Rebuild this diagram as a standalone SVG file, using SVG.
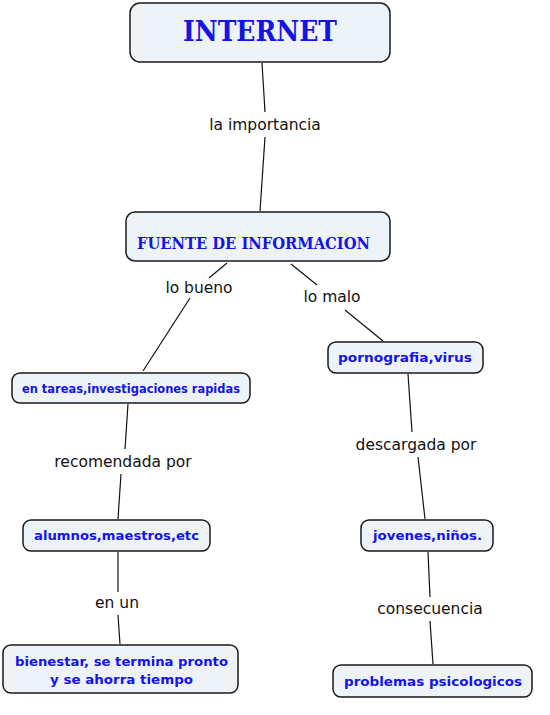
<svg xmlns="http://www.w3.org/2000/svg" width="550" height="715" viewBox="0 0 550 715">
<defs>
<style>
.box{fill:#edf3f6;stroke:#1a1a1a;stroke-width:1.5}
.nt{font-family:"DejaVu Sans",sans-serif;font-weight:bold;font-size:13px;fill:#1414e6;text-anchor:middle}
.tt{font-family:"DejaVu Serif","Liberation Serif",serif;font-weight:bold;fill:#1414e6}
.lb{font-family:"DejaVu Sans",sans-serif;font-size:15.5px;fill:#111;text-anchor:middle}
.ln{stroke:#111;stroke-width:1.2;fill:none}
</style>
</defs>
<rect width="550" height="715" fill="#ffffff"/>
<g id="connectors">
<line class="ln" x1="262" y1="63" x2="265" y2="112"/>
<line class="ln" x1="265" y1="137" x2="260" y2="211"/>
<line class="ln" x1="227" y1="263" x2="209" y2="278"/>
<line class="ln" x1="190" y1="298" x2="143" y2="371"/>
<line class="ln" x1="291" y1="264" x2="317" y2="285"/>
<line class="ln" x1="345" y1="310" x2="383" y2="341"/>
<line class="ln" x1="408" y1="374" x2="412" y2="432"/>
<line class="ln" x1="418" y1="457" x2="425" y2="519"/>
<line class="ln" x1="128" y1="404" x2="125" y2="449"/>
<line class="ln" x1="121" y1="474" x2="118" y2="519"/>
<line class="ln" x1="118" y1="552" x2="118" y2="592"/>
<line class="ln" x1="118" y1="615" x2="120" y2="644"/>
<line class="ln" x1="428" y1="552" x2="430" y2="597"/>
<line class="ln" x1="430" y1="621" x2="433" y2="664"/>
<text class="lb" x="265" y="130">la importancia</text>
<text class="lb" x="199" y="293">lo bueno</text>
<text class="lb" x="332" y="302">lo malo</text>
<text class="lb" x="416" y="450">descargada por</text>
<text class="lb" x="123" y="467">recomendada por</text>
<text class="lb" x="117" y="608">en un</text>
<text class="lb" x="430" y="614">consecuencia</text>
</g>
<g id="internet">
<rect class="box" x="130" y="3" width="260" height="59" rx="10"/>
<text class="tt" x="183" y="41" font-size="27" textLength="154" lengthAdjust="spacingAndGlyphs">INTERNET</text>
</g>
<g id="fuente">
<rect class="box" x="126" y="212" width="264" height="49" rx="9"/>
<text class="tt" x="137" y="249" font-size="16" textLength="233" lengthAdjust="spacingAndGlyphs">FUENTE DE INFORMACION</text>
</g>
<g id="tareas">
<rect class="box" x="12" y="373" width="238" height="30" rx="8"/>
<text class="nt" x="131" y="393" font-size="12" textLength="218" lengthAdjust="spacingAndGlyphs">en tareas,investigaciones rapidas</text>
</g>
<g id="porno">
<rect class="box" x="328" y="342" width="155" height="31" rx="8"/>
<text class="nt" x="405" y="362" textLength="134" lengthAdjust="spacingAndGlyphs">pornografia,virus</text>
</g>
<g id="alumnos">
<rect class="box" x="23" y="520" width="187" height="31" rx="8"/>
<text class="nt" x="116.5" y="540" textLength="165" lengthAdjust="spacingAndGlyphs">alumnos,maestros,etc</text>
</g>
<g id="jovenes">
<rect class="box" x="361" y="520" width="132" height="31" rx="8"/>
<text class="nt" x="427.5" y="540" textLength="109" lengthAdjust="spacingAndGlyphs">jovenes,niños.</text>
</g>
<g id="bienestar">
<rect class="box" x="3" y="645" width="235" height="48" rx="8"/>
<text class="nt" x="121.5" y="666" textLength="213" lengthAdjust="spacingAndGlyphs">bienestar, se termina pronto</text>
<text class="nt" x="121.5" y="684" textLength="143" lengthAdjust="spacingAndGlyphs">y se ahorra tiempo</text>
</g>
<g id="problemas">
<rect class="box" x="333" y="665" width="199" height="32" rx="8"/>
<text class="nt" x="433" y="686" textLength="178" lengthAdjust="spacingAndGlyphs">problemas psicologicos</text>
</g>
</svg>
